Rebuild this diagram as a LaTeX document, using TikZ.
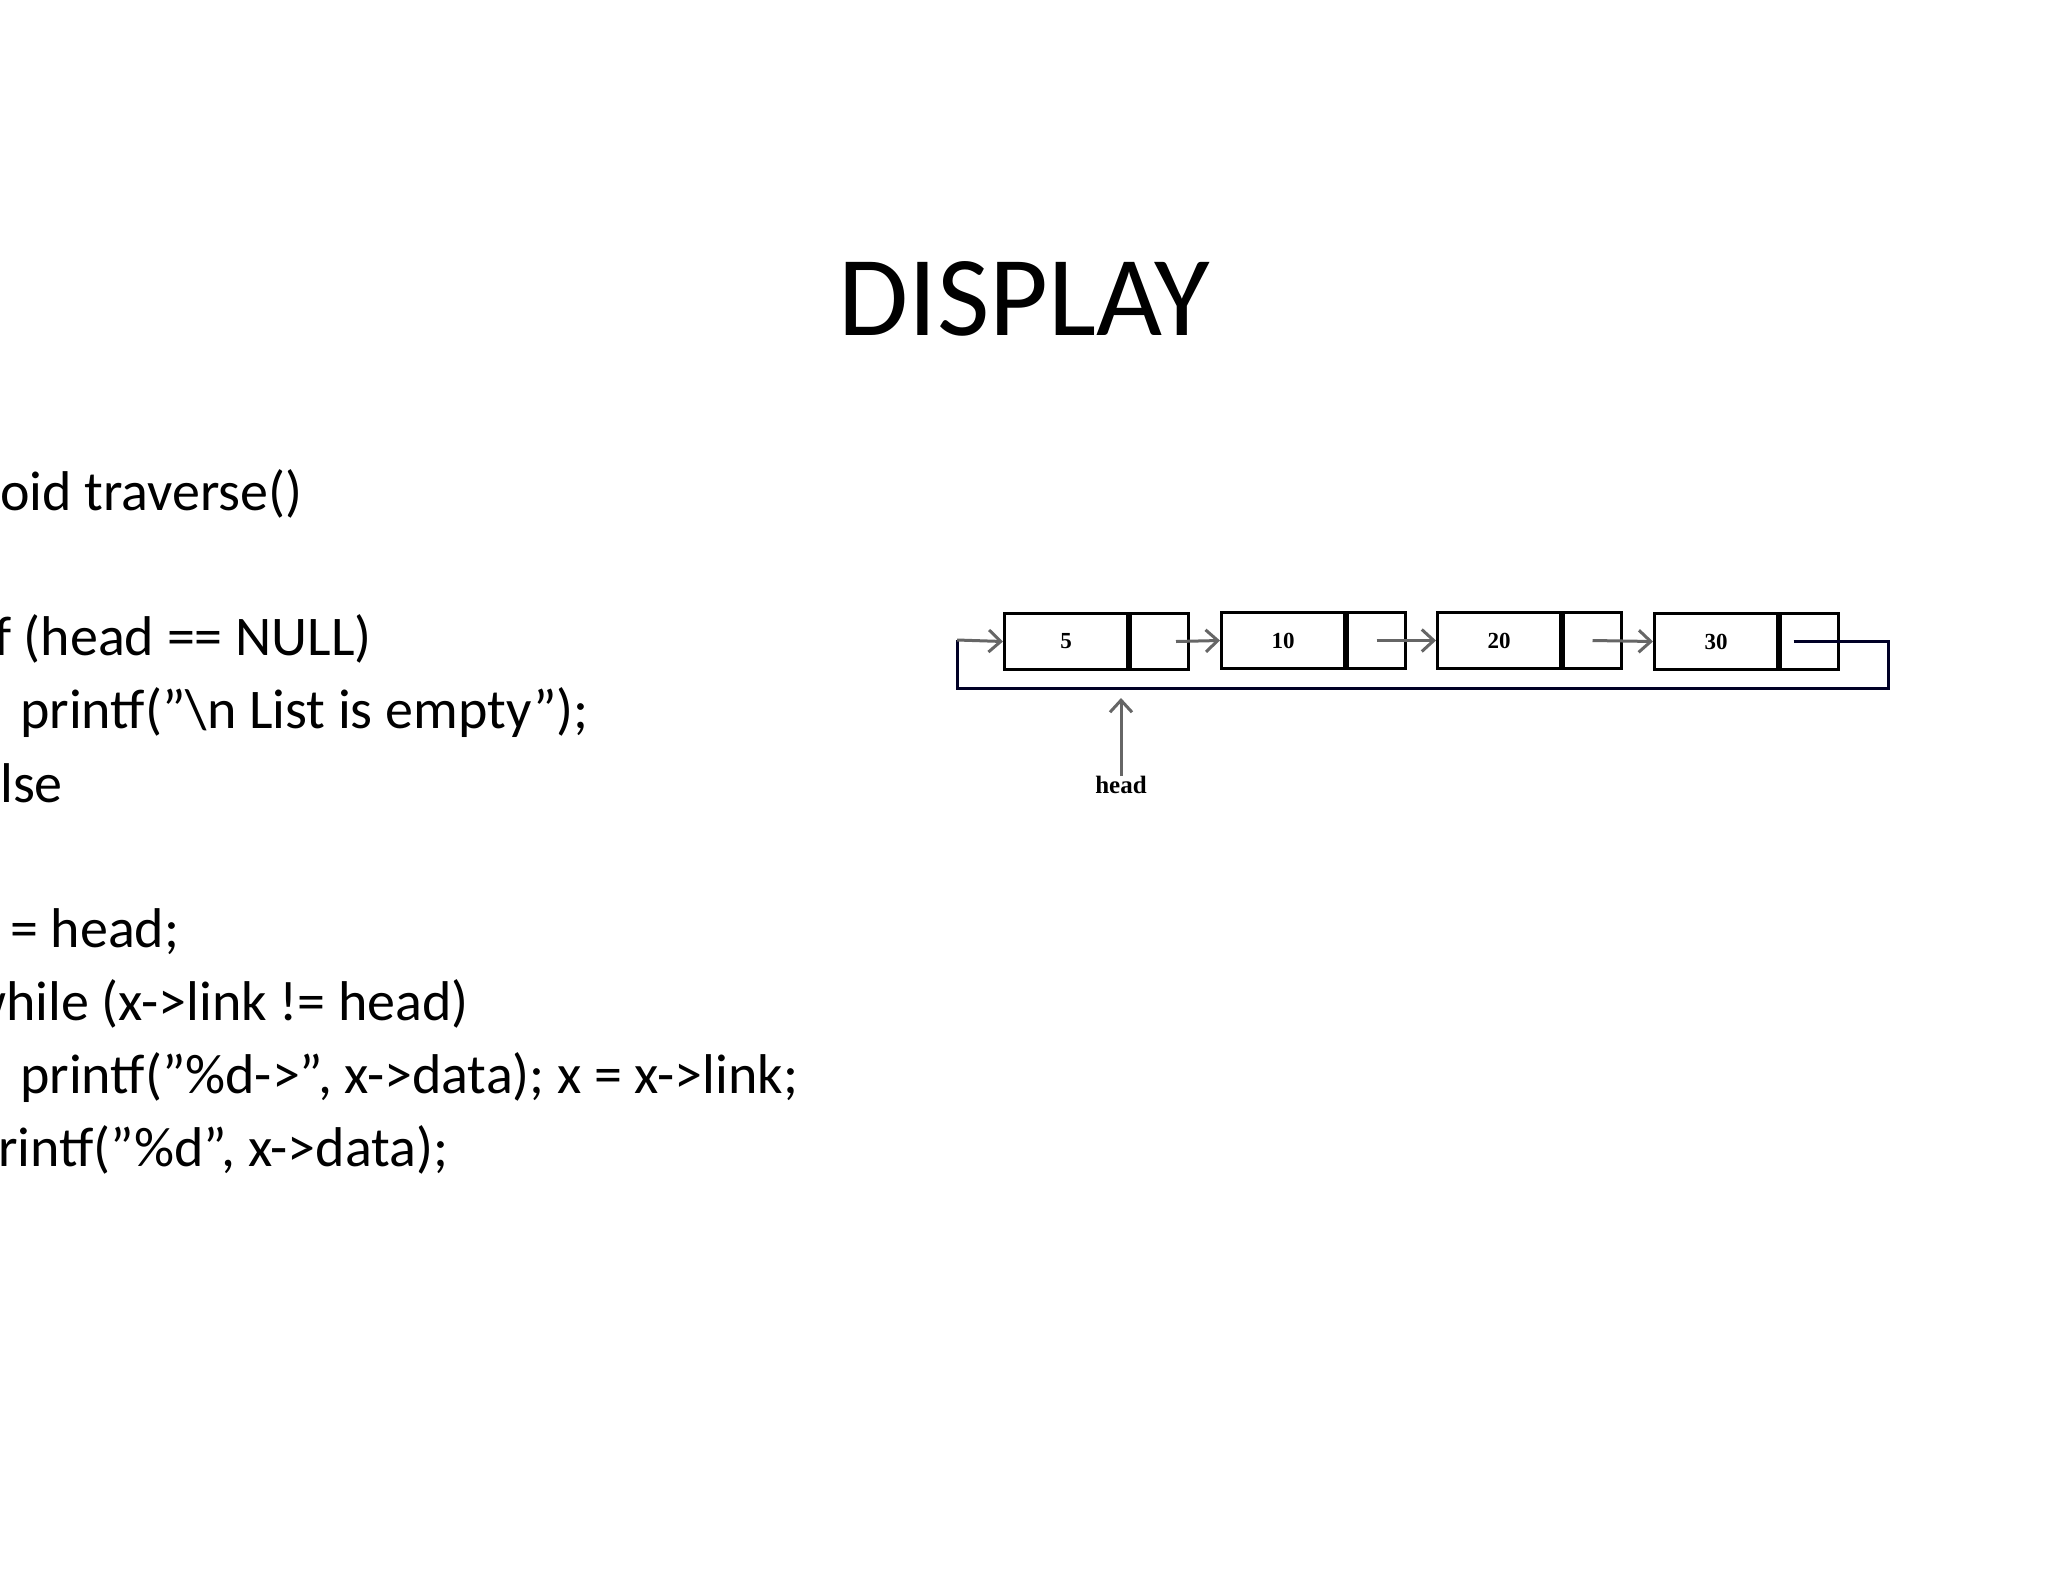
\documentclass[tikz,border=0pt]{standalone}
\usepackage{fontspec}
\setmainfont{Carlito}[Ligatures={ResetAll}]
\newfontfamily\diagfont{Liberation Serif}
\newcommand\dqt{\symbol{34}}
\usetikzlibrary{arrows.meta}
\begin{document}
\begin{tikzpicture}[x=1pt,y=-1pt,
  cell/.style={draw=black,line width=3pt,minimum height=56pt,inner sep=0pt,font=\diagfont\bfseries\fontsize{23}{25}\selectfont},
  datacell/.style={cell,minimum width=123pt},
  ptrcell/.style={cell,minimum width=58pt},
  link/.style={draw=gray!80!black,line width=3pt,-{Straight Barb[length=12pt,width=22pt]}},
  code/.style={anchor=base west,inner sep=0pt,font=\fontsize{56}{60}\selectfont}]
\useasboundingbox[fill=white] (0,0) rectangle (2048,1582);
\node[font=\fontsize{114}{120}\selectfont] (title) at (1024,299) {DISPLAY};
\node[code] (c1) at (0,510) {\llap{v}oid traverse()};
\node[code] (c2) at (-6,655) {\llap{i}f (head == NULL)};
\node[code] (c3) at (20,728) {printf(\dqt\textbackslash n List is empty\dqt);};
\node[code] (c4) at (0,802) {\llap{e}lse};
\node[code] (c5) at (10,947) {\llap{x }= head;};
\node[code] (c6) at (6,1020) {\llap{w}hile (x->link != head)};
\node[code] (c7) at (20,1093) {printf(\dqt\%d->\dqt, x->data); x = x->link;};
\node[code] (c8) at (-2,1166) {\llap{p}rintf(\dqt\%d\dqt, x->data);};
% list nodes
\node[datacell,anchor=north west] (d1) at (1003,612) {5};
\node[ptrcell,anchor=north west] (p1) at (d1.north east) {};
\node[datacell,anchor=north west] (d2) at (1220,611) {10};
\node[ptrcell,anchor=north west] (p2) at (d2.north east) {};
\node[datacell,anchor=north west] (d3) at (1436,611) {20};
\node[ptrcell,anchor=north west] (p3) at (d3.north east) {};
\node[datacell,anchor=north west] (d4) at (1653,612) {30};
\node[ptrcell,anchor=north west] (p4) at (d4.north east) {};
\draw[link] ([xshift=-14pt]p1.east) -- (d2.west);
\draw[link] (p2.center) -- (d3.west);
\draw[link] (p3.center) -- (d4.west);
\coordinate (r) at (1888,640);
\coordinate (rb) at (1888,688);
\coordinate (lb) at (957,688);
\coordinate (l) at (957,640);
\draw[line width=3pt,draw=black!85!blue,line join=miter] ([xshift=-16pt]p4.center) -- (p4.center -| r) -- (rb) -- (lb) -- (l);
\draw[link] (l) -- (d1.west);
\node[font=\diagfont\bfseries\fontsize{25}{27}\selectfont,anchor=base] (head) at (1121,793) {head};
\draw[link] ([yshift=-4pt]head.north) -- (1121,698);
\end{tikzpicture}
\end{document}
